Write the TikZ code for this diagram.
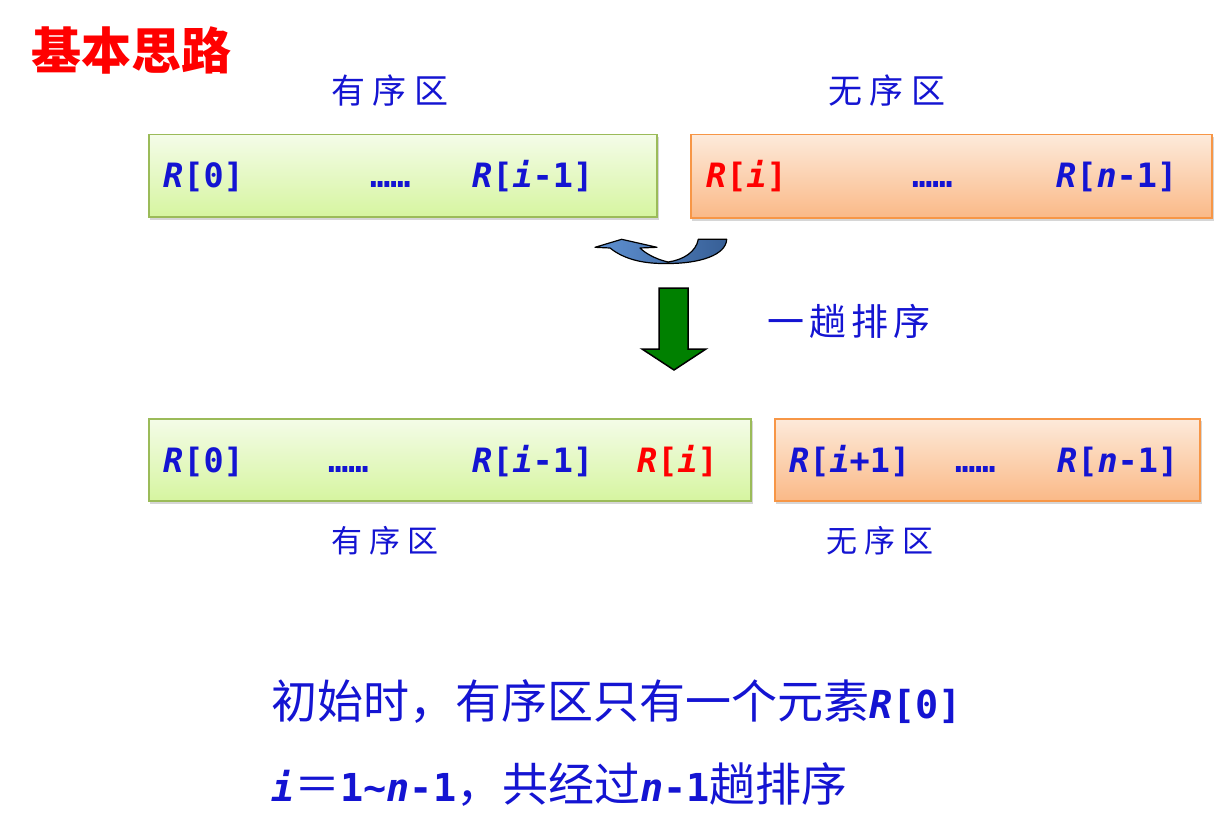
\documentclass[tikz,border=0pt]{standalone}
\usepackage{fontspec}
\newfontfamily\cjk{Noto Sans CJK SC}
\newfontfamily\mono{DejaVu Sans Mono}
\definecolor{txtblue}{RGB}{20,20,210}
\definecolor{gtop}{RGB}{244,252,232}
\definecolor{gbot}{RGB}{214,245,160}
\definecolor{gborder}{RGB}{155,187,89}
\definecolor{otop}{RGB}{253,234,218}
\definecolor{obot}{RGB}{250,185,135}
\definecolor{oborder}{RGB}{247,150,70}
\definecolor{arrL}{RGB}{95,145,210}
\definecolor{arrR}{RGB}{55,95,150}
\definecolor{arrG}{RGB}{0,128,0}
\newcommand\Rr{{\itshape R}}
\newcommand\mi{{\itshape i}}
\newcommand\mn{{\itshape n}}
\newcommand\MO[1]{{\mono\bfseries\fontsize{38.5}{42}\selectfont #1}}
\newcommand\CJ[1]{{\cjk\fontsize{46}{50}\selectfont #1}}
\tikzset{
  shadowbox/.style={fill=black!35, opacity=0.45, draw=none},
  greenbox/.style={draw=gborder, line width=1.5pt, top color=gtop, bottom color=gbot, anchor=north west, inner sep=0pt},
  orangebox/.style={draw=oborder, line width=1.5pt, top color=otop, bottom color=obot, anchor=north west, inner sep=0pt},
  mtxt/.style={font=\mono\bfseries\fontsize{33.5}{36}\selectfont, text=txtblue, inner sep=0pt, anchor=base west},
  rtxt/.style={mtxt, text=red},
  zone/.style={font=\cjk\fontsize{34}{38}\selectfont, text=txtblue, inner sep=0pt},
  zonesmall/.style={font=\cjk\fontsize{31}{34}\selectfont, text=txtblue, inner sep=0pt},
  bottomline/.style={text=txtblue, inner sep=0pt, anchor=base west},
}
\begin{document}
\begin{tikzpicture}[x=1pt,y=-1pt]
\useasboundingbox[fill=white] (0,0) rectangle (1219,840);

% title
\node[font=\cjk\bfseries\fontsize{50}{54}\selectfont, text=red, inner sep=0pt, anchor=west] (title) at (31,50) {基本思路};

% top labels
\node[zone] (lab1) at (390,91) {有\hspace{8pt}序\hspace{8pt}区};
\node[zone] (lab2) at (887,91) {无\hspace{8pt}序\hspace{8pt}区};

% shadows
\fill[shadowbox] (150,137) rectangle (659,220);
\fill[shadowbox] (692,137) rectangle (1214,221);
\fill[shadowbox] (150,421) rectangle (753,504);
\fill[shadowbox] (776,421) rectangle (1202,504);

% top boxes
\node[greenbox, minimum width=508pt, minimum height=82pt] (b1) at (148,134) {};
\node[orangebox, minimum width=521pt, minimum height=83pt] (b2) at (690,134) {};

\node[mtxt] (t11) at (163,188) {\Rr[0]};
\node[mtxt] (t12) at (370,188) {……};
\node[mtxt] (t13) at (472,188) {\Rr[\mi-1]};
\node[rtxt] (t21) at (706,188) {\Rr[\mi]};
\node[mtxt] (t22) at (912,188) {……};
\node[mtxt] (t23) at (1056,188) {\Rr[\mn-1]};

% curved blue arrow
\shade[left color=arrL, right color=arrR, draw=black, line width=1.2pt, line join=round]
  (726.7,239.3) -- (698.3,239.3)
  .. controls (696,252) and (683,260) .. (668,262)
  .. controls (655,259) and (645,253) .. (640,248)
  -- (657,247.3) -- (621.7,239.3) -- (595,247.3) -- (610,248)
  .. controls (625,260) and (645,264) .. (668,263.5)
  .. controls (700,263.5) and (726,255) .. (726.7,239.3) -- cycle;

% green down arrow
\filldraw[fill=arrG, draw=black, line width=1.5pt, line join=miter]
  (659,288) -- (688,288) -- (688,349) -- (706,349) -- (674,370) -- (642,349) -- (659,349) -- cycle;

\node[font=\cjk\fontsize{37}{40}\selectfont, text=txtblue, inner sep=0pt, anchor=west] (pass) at (767,321) {一\hspace{5pt}趟\hspace{5pt}排\hspace{5pt}序};

% bottom boxes
\node[greenbox, minimum width=602pt, minimum height=82pt] (b3) at (148,418) {};
\node[orangebox, minimum width=425pt, minimum height=82pt] (b4) at (774,418) {};

\node[mtxt] (t31) at (163,472) {\Rr[0]};
\node[mtxt] (t32) at (328,472) {……};
\node[mtxt] (t33) at (472,472) {\Rr[\mi-1]};
\node[rtxt] (t34) at (637,472) {\Rr[\mi]};
\node[mtxt] (t41) at (789,472) {\Rr[\mi+1]};
\node[mtxt] (t42) at (955,472) {……};
\node[mtxt] (t43) at (1057,472) {\Rr[\mn-1]};

% bottom labels
\node[zonesmall] (lab3) at (385,541) {有\hspace{7pt}序\hspace{7pt}区};
\node[zonesmall] (lab4) at (880,541) {无\hspace{7pt}序\hspace{7pt}区};

% explanation lines
\node[bottomline] (line1) at (271,718) {\CJ{初始时，有序区只有一个元素}\MO{\Rr[0]}};
\node[bottomline] (line2) at (271,801) {\MO{\mi}\CJ{＝}\MO{1\char"7E\mn-1}\CJ{，共经过}\MO{\mn-1}\CJ{趟排序}};
\end{tikzpicture}
\end{document}
